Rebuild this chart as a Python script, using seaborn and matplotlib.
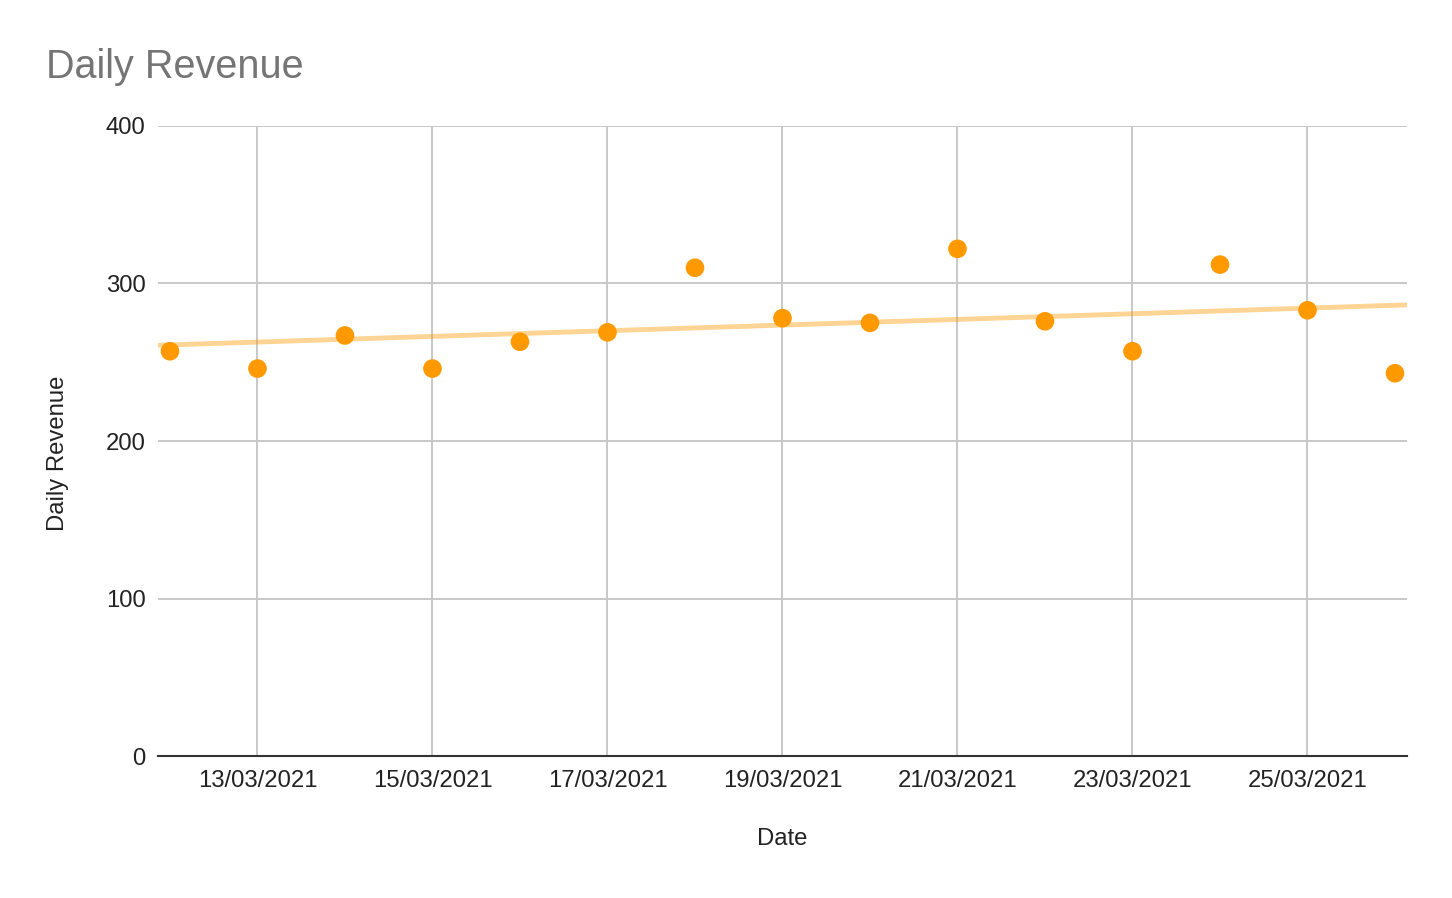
import numpy as np
import pandas as pd
import seaborn as sns
import matplotlib.pyplot as plt

# Data
dates = ["12/03/2021", "13/03/2021", "14/03/2021", "15/03/2021", "16/03/2021",
         "17/03/2021", "18/03/2021", "19/03/2021", "20/03/2021", "21/03/2021",
         "22/03/2021", "23/03/2021", "24/03/2021", "25/03/2021", "26/03/2021"]
revenue = [257, 246, 267, 246, 263, 269, 310, 278, 275, 322, 276, 257, 312, 283, 243]
tick_dates = ["13/03/2021", "15/03/2021", "17/03/2021", "19/03/2021",
              "21/03/2021", "23/03/2021", "25/03/2021"]
y_ticks = [0, 100, 200, 300, 400]

ORANGE = "#FF9900"
GRID = "#C8C8C8"

sns.set_style("whitegrid")
plt.rcParams["font.family"] = ["Liberation Sans", "DejaVu Sans"]

dt = pd.to_datetime(dates, format="%d/%m/%Y")
df = pd.DataFrame({"day": (dt - dt[0]).days.astype(float), "revenue": revenue})
tick_dt = pd.to_datetime(tick_dates, format="%d/%m/%Y")
tick_pos = (tick_dt - dt[0]).days.astype(float)

fig = plt.figure(figsize=(14.52, 8.98), dpi=100)
ax = fig.add_axes([0.1088, 0.1581, 0.969 - 0.1088, 0.8597 - 0.1581])

ax.set_xlim(-0.137, df["day"].max() + 0.137)
ax.set_ylim(0, 400)

# trend line across full width
sns.regplot(data=df, x="day", y="revenue", scatter=False, ci=None, truncate=False,
            ax=ax, line_kws={"color": ORANGE, "alpha": 0.42, "lw": 3.5, "zorder": 3})
sns.scatterplot(data=df, x="day", y="revenue", ax=ax, color=ORANGE, s=180,
                edgecolor="none", zorder=4)

ax.set_xticks(tick_pos)
ax.set_xticklabels(tick_dates)
ax.set_yticks(y_ticks)
ax.tick_params(axis="both", length=0, labelsize=17.2, colors="#222222")
ax.tick_params(axis="x", pad=10)
ax.tick_params(axis="y", pad=9)

ax.grid(True, color=GRID, lw=1.4)
ax.set_axisbelow(True)
for side in ["top", "right", "left"]:
    ax.spines[side].set_visible(False)
ax.spines["bottom"].set_color("#333333")
ax.spines["bottom"].set_linewidth(1.5)
ax.spines["bottom"].set_zorder(5)

ax.set_xlabel("Date", fontsize=17.2, color="#222222", labelpad=26)
ax.set_ylabel("Daily Revenue", fontsize=17.2, color="#222222")
ax.yaxis.set_label_coords(-0.0714, 0.481)

fig.text(46 / 1452, 1 - 78 / 898, "Daily Revenue", fontsize=28.5, color="#757575",
         ha="left", va="baseline")

fig.savefig("out.png", dpi=100, facecolor="white")
